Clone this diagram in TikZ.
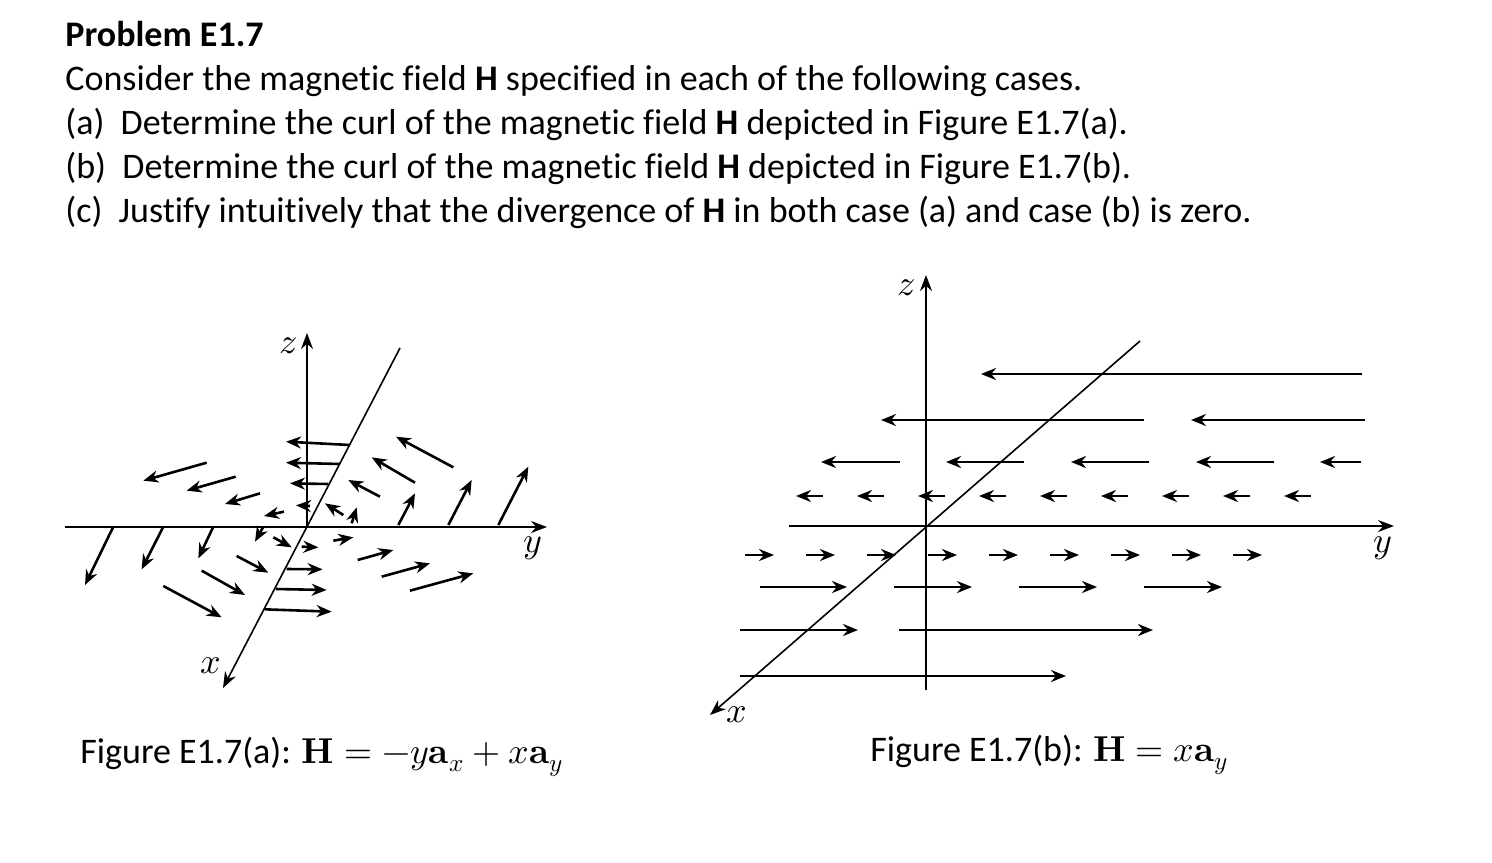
\documentclass[tikz,border=0pt]{standalone}
\usepackage{fontspec}
\setmainfont{Carlito}[Ligatures=NoCommon]
\usepackage{unicode-math}
\setmathfont{Latin Modern Math}
\usetikzlibrary{arrows.meta}
\begin{document}
\begin{tikzpicture}[x=0.5pt,y=-0.5pt,
  ax/.style={line width=0.8pt,-{Stealth[length=8pt,width=6pt]}},
  fa/.style={line width=1.3pt,-{Stealth[length=7.5pt,width=6pt]}},
  txt/.style={anchor=base west,inner sep=0pt,font=\fontsize{18}{20}\selectfont},
  lab/.style={inner sep=0pt,font=\fontsize{18}{20}\selectfont}]
\useasboundingbox (0,0) rectangle (1492,862);
\node[txt] (t1) at (65,46) {\bfseries Problem E1.7};
\node[txt] (t2) at (65,90) {Consider the magnetic field \textbf{H} specified in each of the following cases.};
\node[txt] (t3) at (65,134) {(a)\ \ Determine the curl of the magnetic field \textbf{H} depicted in Figure E1.7(a).};
\node[txt] (t4) at (65,178) {(b)\ \ Determine the curl of the magnetic field \textbf{H} depicted in Figure E1.7(b).};
\node[txt] (t5) at (65,222) {(c)\ \ Justify intuitively that the divergence of \textbf{H} in both case (a) and case (b) is zero.};
\node[txt] (c1) at (80,763) {Figure E1.7(a): $\symbf{H}=-y\symbf{a}_x+x\symbf{a}_y$};
\node[txt] (c2) at (870,761) {Figure E1.7(b): $\symbf{H}=x\symbf{a}_y$};
% ---- figure (a)
\coordinate (oa) at (307,527);
\coordinate (za) at (307,333);
\coordinate (yal) at (65,527);
\coordinate (yar) at (547,527);
\coordinate (xat) at (400,348);
\coordinate (xab) at (223,688);
\draw[ax] (oa) -- (za);
\draw[ax] (yal) -- (yar);
\draw[ax] (xat) -- (xab);
\node[lab] (lza) at (288,346) {$z$};
\node[lab] (lya) at (533,548) {$y$};
\node[lab] (lxa) at (211,666) {$x$};
\foreach \a/\b/\c/\d in {440/398/250/452, 527/440/380/482, 600/490/495/522, 672/545/612/558,
  750/528/708/526, 870/345/678/335, 840/402/678/398, 805/462/690/460,
  1180/412/1008/320, 1065/458/935/382, 960/500/865/450, 850/555/795/520, 875/580/890/532,
  1015/585/1065/490, 1165/585/1235/450, 1315/585/1405/410,
  160/590/75/765, 310/590/245/718, 460/590/415/685, 610/590/585/635,
  640/622/695/652, 725/650/775/652, 820/632/880/622, 893/690/1000/660, 965/740/1110/700,
  1050/782/1240/730, 530/678/625/728, 425/722/555/795, 310/768/485/862,
  680/717/788/718, 648/777/800/780, 615/838/815/845}
  {\draw[fa] ({60+\a/3},{330+\b/3}) -- ({60+\c/3},{330+\d/3});}
% ---- figure (b)
\coordinate (ob) at (926,526);
\coordinate (zbt) at (926,275);
\coordinate (zbb) at (926,690);
\coordinate (ybl) at (789,526);
\coordinate (ybr) at (1394,526);
\coordinate (xbt) at (1140,341);
\coordinate (xbb) at (710,715);
\draw[ax] (zbb) -- (zbt);
\draw[ax] (ybl) -- (ybr);
\draw[ax] (xbt) -- (xbb);
\node[lab] (lzb) at (906,288) {$z$};
\node[lab] (lyb) at (1383,548) {$y$};
\node[lab] (lxb) at (737,715) {$x$};
\foreach \a/\c/\y in {1362/981/374, 1144/881/420, 1365/1191/420,
  900/821/462, 1024/946/462, 1149/1071/462, 1274/1196/462, 1361/1320/462,
  760/847/587, 894/972/587, 1019/1097/587, 1144/1222/587,
  740/858/630, 899/1153/630, 740/1066/676}
  {\draw[fa] (\a,\y) -- (\c,\y);}
\foreach \i in {0,...,8}
  {\draw[fa] ({823+61*\i},496) -- ({796+61*\i},496);
   \draw[fa] ({745+61*\i},555) -- ({774+61*\i},555);}
\end{tikzpicture}
\end{document}
